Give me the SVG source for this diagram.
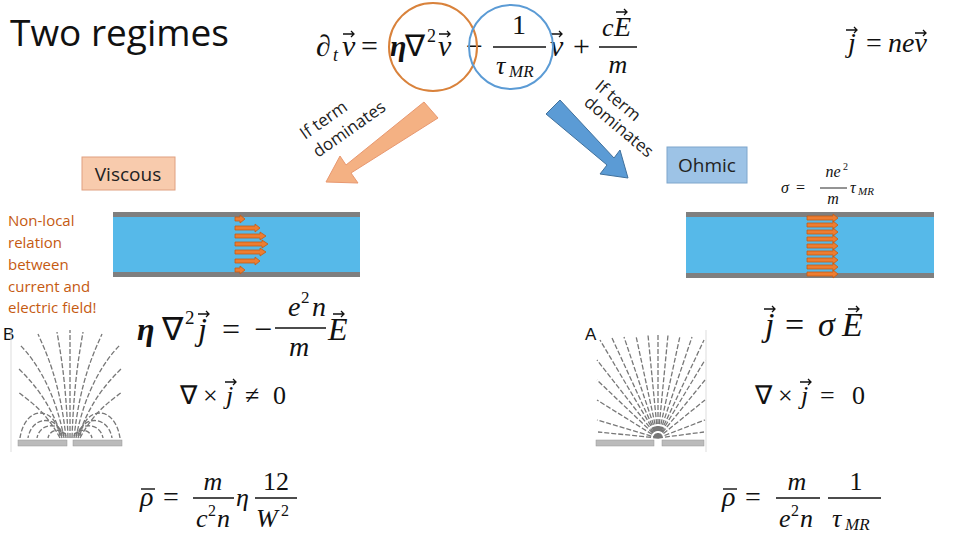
<svg xmlns="http://www.w3.org/2000/svg" width="960" height="540" viewBox="0 0 960 540">
<defs>
<style>
.m{font-family:"Liberation Serif",serif;font-style:italic;fill:#111}
.r{font-family:"Liberation Serif",serif;fill:#111}
.s{font-family:"Open Sans","Liberation Sans",sans-serif}
.fl{stroke:#111;stroke-width:1.4}
.st{fill:none;stroke:#777;stroke-width:1.3}
.ar{fill:#ed7d31;stroke:#c55a11;stroke-width:0.8}
.bar{fill:#7f7f7f}
.hat{fill:#bbb;stroke:#999;stroke-width:0.5}
.vec{fill:none;stroke:#111;stroke-width:1.3}
</style>
<path id="v" d="M0 0h11M8 -3l3 3l-3 3" class="vec"/>
</defs>
<rect width="960" height="540" fill="#fff"/>
<text x="10" y="46" class="s" font-size="37" fill="#111">Two regimes</text>

<g id="equation">
<text x="316" y="56" class="r" font-size="30">∂</text>
<text x="333" y="61" class="m" font-size="18">t</text>
<text x="342" y="56" class="m" font-size="30">v</text><use href="#v" x="343" y="34"/>
<text x="361" y="56" class="r" font-size="30">=</text>
<text x="390" y="56" class="m" font-size="30" font-weight="bold">η</text>
<text x="405" y="56" class="r" font-size="30">∇</text>
<text x="427" y="42" class="r" font-size="18">2</text>
<text x="438" y="56" class="m" font-size="30">v</text><use href="#v" x="439" y="34"/>
<text x="466" y="56" class="r" font-size="30">−</text>
<text x="519" y="34" class="r" font-size="28" text-anchor="middle">1</text>
<line x1="493" y1="47" x2="546" y2="47" class="fl"/>
<text x="496" y="74" class="m" font-size="26">τ</text>
<text x="509" y="77" class="m" font-size="17">MR</text>
<text x="550" y="56" class="m" font-size="30">v</text><use href="#v" x="551" y="34"/>
<text x="573" y="56" class="r" font-size="30">+</text>
<text x="602" y="36" class="m" font-size="26">c</text>
<text x="614" y="36" class="m" font-size="28">E</text><use href="#v" x="616" y="12"/>
<line x1="599" y1="47" x2="637" y2="47" class="fl"/>
<text x="618" y="73" class="m" font-size="26" text-anchor="middle">m</text>
<circle cx="433" cy="47" r="44" fill="none" stroke="#d9823b" stroke-width="2"/>
<circle cx="511" cy="47" r="42" fill="none" stroke="#5b9bd5" stroke-width="2"/>
</g>
<g id="jnev">
<text x="848" y="52" class="m" font-size="28">j</text><use href="#v" x="846" y="30"/>
<text x="866" y="52" class="r" font-size="28">=</text>
<text x="888" y="52" class="m" font-size="28">nev</text><use href="#v" x="915" y="33"/>
</g>

<g id="connectors">
<polygon points="424,102 438,118 351,173 358,183 326,182 340,156 346,165" fill="#f4b183" stroke="#e89870" stroke-width="1"/>
<polygon points="560,100 546,114 607,165 600,174 628,178 620,150 614,158" fill="#5b9bd5" stroke="#41719c" stroke-width="1"/>
<text class="s" font-size="17" fill="#222" transform="translate(305,140) rotate(-35)">If term</text>
<text class="s" font-size="17" fill="#222" transform="translate(318,158) rotate(-35)">dominates</text>
<text class="s" font-size="17" fill="#222" transform="translate(594,88) rotate(40)">If term</text>
<text class="s" font-size="17" fill="#222" transform="translate(583,104) rotate(40)">dominates</text>
</g>

<g id="viscous">
<rect x="82" y="157" width="93" height="33" fill="#f8cbad" stroke="#e0a080" stroke-width="1"/>
<text x="128" y="181" class="s" font-size="19" text-anchor="middle" fill="#222">Viscous</text>
</g>
<g id="ohmic">
<rect x="667" y="147" width="80" height="36" fill="#9dc3e6" stroke="#7ea6cc" stroke-width="1"/>
<text x="707" y="172" class="s" font-size="19" text-anchor="middle" fill="#222">Ohmic</text>
</g>
<g id="sigma">
<text x="781" y="193" class="m" font-size="16">σ</text>
<text x="796" y="193" class="r" font-size="16">=</text>
<text x="833" y="177" class="m" font-size="16" text-anchor="middle">ne</text>
<text x="843" y="170" class="r" font-size="10">2</text>
<line x1="820" y1="188" x2="847" y2="188" stroke="#111" stroke-width="0.9"/>
<text x="833" y="204" class="m" font-size="16" text-anchor="middle">m</text>
<text x="850" y="193" class="m" font-size="16">τ</text>
<text x="858" y="195" class="m" font-size="11">MR</text>
</g>

<g id="non-local" class="s" font-size="15" fill="#c55a11">
<text x="8" y="226">Non-local</text>
<text x="8" y="248">relation</text>
<text x="8" y="270">between</text>
<text x="8" y="292">current and</text>
<text x="8" y="313">electric field!</text>
</g>

<g id="channel-left">
<rect x="113" y="217" width="247" height="56" fill="#56b9e9"/>
<rect x="113" y="212" width="247" height="5" class="bar"/>
<rect x="113" y="272" width="247" height="5" class="bar"/>
<g class="ar">
<path d="M235 217h5v-2l5 4l-5 4v-2h-5z"/>
<path d="M235 226h20v-2l5 4l-5 4v-2h-20z"/>
<path d="M235 234h25v-2l6 4l-6 4v-2h-25z"/>
<path d="M235 242h27v-2l6 4l-6 4v-2h-27z"/>
<path d="M235 250h25v-2l6 4l-6 4v-2h-25z"/>
<path d="M235 259h20v-2l5 4l-5 4v-2h-20z"/>
<path d="M235 268h5v-2l5 4l-5 4v-2h-5z"/>
</g>
</g>
<g id="channel-right">
<rect x="686" y="217" width="248" height="56" fill="#56b9e9"/>
<rect x="686" y="212" width="248" height="5" class="bar"/>
<rect x="686" y="273" width="248" height="5" class="bar"/>
<g class="ar">
<path d="M807 216h26v-2l5 4l-5 4v-2h-26z"/>
<path d="M807 223h26v-2l5 4l-5 4v-2h-26z"/>
<path d="M807 230h26v-2l5 4l-5 4v-2h-26z"/>
<path d="M807 237h26v-2l5 4l-5 4v-2h-26z"/>
<path d="M807 244h26v-2l5 4l-5 4v-2h-26z"/>
<path d="M807 251h26v-2l5 4l-5 4v-2h-26z"/>
<path d="M807 258h26v-2l5 4l-5 4v-2h-26z"/>
<path d="M807 265h26v-2l5 4l-5 4v-2h-26z"/>
<path d="M807 272h26v-2l5 4l-5 4v-2h-26z"/>
</g>
</g>

<g id="eq-left">
<text x="137" y="340" class="m" font-size="32" font-weight="bold">η</text>
<text x="162" y="340" class="r" font-size="32">∇</text>
<text x="185" y="324" class="r" font-size="19">2</text>
<text x="198" y="340" class="m" font-size="32">j</text><use href="#v" x="198" y="314"/>
<text x="222" y="340" class="r" font-size="32">=</text>
<text x="254" y="340" class="r" font-size="32">−</text>
<text x="288" y="316" class="m" font-size="28">e</text>
<text x="301" y="303" class="r" font-size="17">2</text>
<text x="312" y="316" class="m" font-size="28">n</text>
<line x1="275" y1="328" x2="326" y2="328" class="fl"/>
<text x="299" y="356" class="m" font-size="28" text-anchor="middle">m</text>
<text x="328" y="340" class="m" font-size="32">E</text><use href="#v" x="333" y="314"/>

<text x="180" y="404" class="r" font-size="26">∇</text>
<text x="203" y="404" class="r" font-size="26">×</text>
<text x="226" y="404" class="m" font-size="26">j</text><use href="#v" x="225" y="382"/>
<text x="245" y="404" class="r" font-size="26">≠</text>
<text x="273" y="404" class="r" font-size="26">0</text>

<text x="140" y="506" class="m" font-size="28">ρ</text>
<line x1="141" y1="489" x2="155" y2="489" class="fl"/>
<text x="163" y="506" class="r" font-size="28">=</text>
<text x="213" y="490" class="m" font-size="26" text-anchor="middle">m</text>
<line x1="193" y1="498" x2="234" y2="498" class="fl"/>
<text x="196" y="527" class="m" font-size="26">c</text>
<text x="208" y="516" class="r" font-size="16">2</text>
<text x="217" y="527" class="m" font-size="26">n</text>
<text x="236" y="506" class="m" font-size="26">η</text>
<text x="276" y="490" class="r" font-size="26" text-anchor="middle">12</text>
<line x1="255" y1="498" x2="297" y2="498" class="fl"/>
<text x="256" y="527" class="m" font-size="26">W</text>
<text x="281" y="516" class="r" font-size="16">2</text>
</g>
<g id="eq-right">
<text x="765" y="336" class="m" font-size="34">j</text><use href="#v" x="764" y="309"/>
<text x="785" y="336" class="r" font-size="34">=</text>
<text x="818" y="336" class="m" font-size="34">σ</text>
<text x="842" y="336" class="m" font-size="34">E</text><use href="#v" x="848" y="309"/>

<text x="755" y="404" class="r" font-size="26">∇</text>
<text x="778" y="404" class="r" font-size="26">×</text>
<text x="801" y="404" class="m" font-size="26">j</text><use href="#v" x="800" y="382"/>
<text x="820" y="404" class="r" font-size="26">=</text>
<text x="852" y="404" class="r" font-size="26">0</text>

<text x="722" y="506" class="m" font-size="28">ρ</text>
<line x1="723" y1="489" x2="737" y2="489" class="fl"/>
<text x="745" y="506" class="r" font-size="28">=</text>
<text x="797" y="490" class="m" font-size="26" text-anchor="middle">m</text>
<line x1="776" y1="498" x2="820" y2="498" class="fl"/>
<text x="779" y="527" class="m" font-size="26">e</text>
<text x="791" y="516" class="r" font-size="16">2</text>
<text x="800" y="527" class="m" font-size="26">n</text>
<text x="856" y="490" class="r" font-size="26" text-anchor="middle">1</text>
<line x1="828" y1="498" x2="881" y2="498" class="fl"/>
<text x="832" y="527" class="m" font-size="26">τ</text>
<text x="845" y="530" class="m" font-size="17">MR</text>
</g>

<g id="fig-B">
<text x="3" y="340" font-family="Liberation Sans,sans-serif" font-size="17" fill="#111">B</text>
<line x1="11" y1="330" x2="11" y2="452" stroke="#ddd" stroke-width="1"/>
<g class="st" stroke-dasharray="5 2">
<path d="M70 438V330"/>
<path d="M68 438C66 380 60 350 57 332"/>
<path d="M72 438C74 380 80 350 83 332"/>
<path d="M66 438C60 380 45 350 38 334"/>
<path d="M74 438C80 380 95 350 102 334"/>
<path d="M64 438C55 390 35 360 20 345"/>
<path d="M76 438C85 390 105 360 120 345"/>
<path d="M62 438C50 400 30 380 18 368"/>
<path d="M78 438C90 400 110 380 122 368"/>
<path d="M60 438C45 410 28 400 18 392"/>
<path d="M80 438C95 410 112 400 122 392"/>
<path d="M60 436C55 405 25 405 20 438"/>
<path d="M80 436C85 405 115 405 120 438"/>
<path d="M62 436C58 415 32 415 28 438"/>
<path d="M78 436C82 415 108 415 112 438"/>
<path d="M64 436C61 422 40 422 37 438"/>
<path d="M76 436C79 422 100 422 103 438"/>
<path d="M66 436C64 428 50 428 48 438"/>
<path d="M74 436C76 428 90 428 92 438"/>
</g>
<rect x="18" y="440" width="49" height="6" class="hat"/>
<rect x="73" y="440" width="49" height="6" class="hat"/>
</g>
<g id="fig-A">
<text x="585" y="340" font-family="Liberation Sans,sans-serif" font-size="17" fill="#111">A</text>
<line x1="706" y1="330" x2="706" y2="452" stroke="#ddd" stroke-width="1"/>
<g class="st" stroke-dasharray="5 2">
<path d="M658 438L600 340M658 438L612 338M658 438L624 337M658 438L636 336M658 438L648 335M658 438L658 335M658 438L668 335M658 438L680 336M658 438L692 337M658 438L704 340"/>
<path d="M658 438L597 360M658 438L597 380M658 438L597 400M658 438L597 420M658 438L598 432"/>
<path d="M658 438L705 360M658 438L705 380M658 438L705 400M658 438L705 420M658 438L704 432"/>
</g>
<rect x="596" y="440" width="58" height="6" class="hat"/>
<rect x="662" y="440" width="42" height="6" class="hat"/>
</g>
</svg>
